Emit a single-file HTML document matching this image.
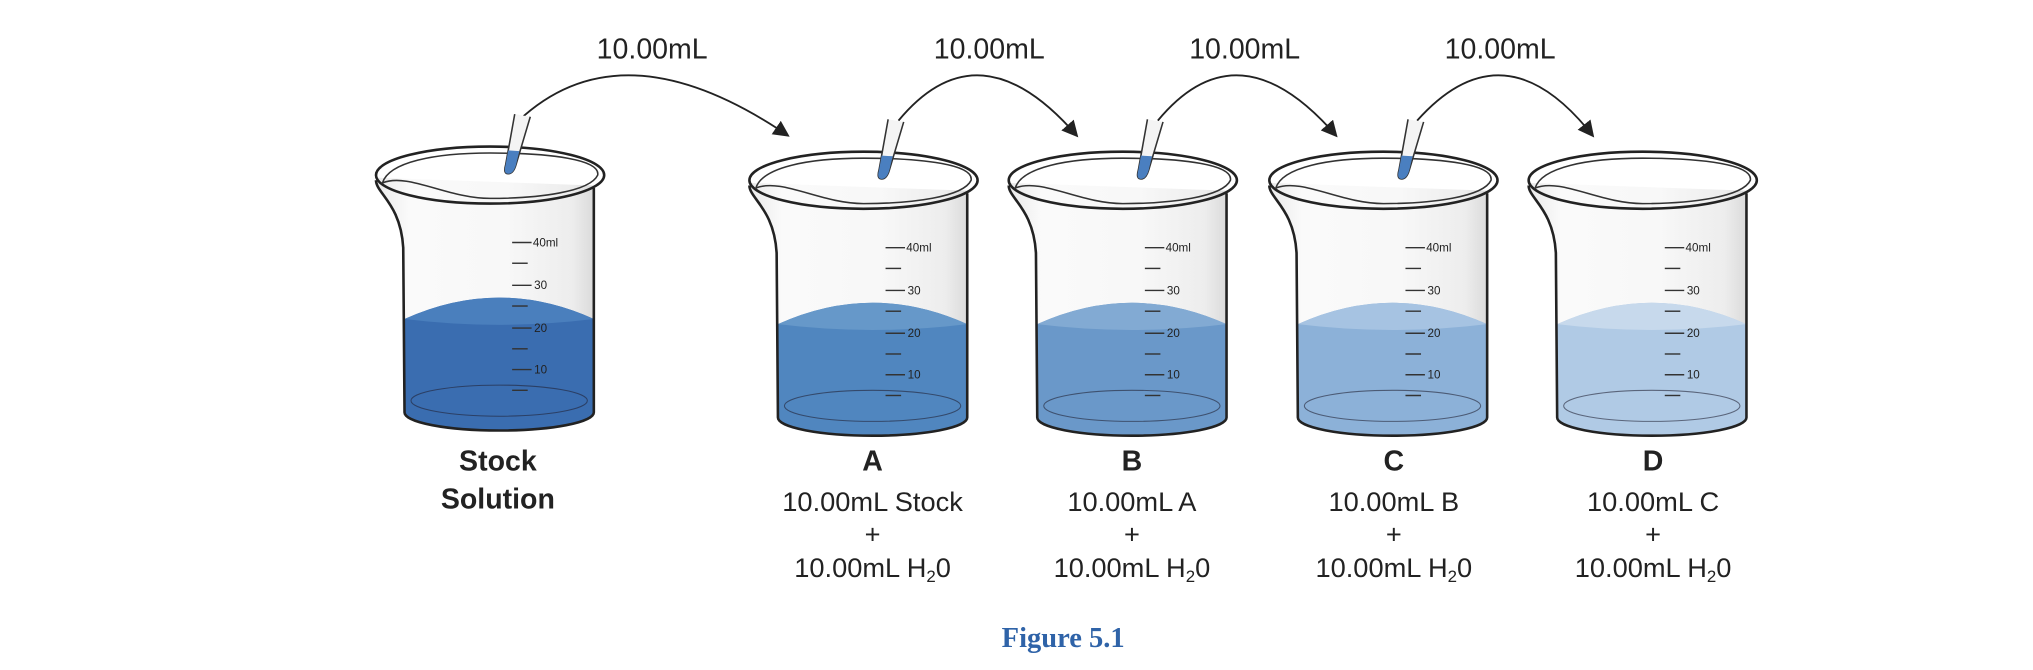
<!DOCTYPE html>
<html><head><meta charset="utf-8"><style>
html,body{margin:0;padding:0;background:#fff}
svg{display:block}
.t{font-family:"Liberation Sans Narrow","Liberation Sans",sans-serif;fill:#222}
</style></head><body>
<svg width="2033" height="670" viewBox="0 0 1568 516.7" xmlns="http://www.w3.org/2000/svg">
<defs>
<linearGradient id="gl" x1="0" x2="1" y1="0" y2="0">
<stop offset="0" stop-color="#d8d8d8"/><stop offset="0.15" stop-color="#f6f6f6"/><stop offset="0.6" stop-color="#f2f2f2"/><stop offset="0.9" stop-color="#dedede"/><stop offset="1" stop-color="#bdbdbd"/>
</linearGradient>
<marker id="ah" viewBox="0 0 10 10" refX="8" refY="5" markerWidth="9" markerHeight="9" orient="auto"><path d="M0,0 L10,5 L0,10 Z" fill="#222"/></marker>
<g id="glass">
<path d="M-95,24 C-95,36 -76,42 -73,75 L-73,205 A73,14 0 0 0 73,205 L73,30 Z" fill="url(#gl)" opacity="0.55"/>
</g>
<g id="out">
<path d="M-95,26 C-95,36 -76,44 -74,78 L-73,205 A73,14 0 0 0 73,205 L73,32" fill="none" stroke="#222" stroke-width="2"/>
<ellipse cx="-7" cy="22" rx="88" ry="22" fill="none" stroke="#222" stroke-width="2"/>
<path d="M-90,28 C-70,20 -40,40 -7,40 C30,40 70,35 76,22 C78,10 40,5 -7,5 C-50,5 -85,12 -90,28 Z" fill="none" stroke="#333" stroke-width="1.2"/>
<ellipse cx="0" cy="196" rx="68" ry="12" fill="none" stroke="#223" stroke-width="0.8" opacity="0.6"/>
<g stroke="#333" stroke-width="1.1">
<line x1="10" x2="25" y1="74" y2="74"/><line x1="10" x2="22" y1="90" y2="90"/><line x1="10" x2="25" y1="107" y2="107"/><line x1="10" x2="22" y1="123" y2="123"/><line x1="10" x2="25" y1="140" y2="140"/><line x1="10" x2="22" y1="156" y2="156"/><line x1="10" x2="25" y1="172" y2="172"/><line x1="10" x2="22" y1="188" y2="188"/>
</g>
<g class="t" font-size="9">
<text x="26" y="77">40ml</text><text x="27" y="110">30</text><text x="27" y="143">20</text><text x="27" y="175">10</text>
</g>
</g>
<g id="pip">
<path d="M12,-25 L5,14 Q3,21 7,21 Q11,21 13,14 L24,-23" fill="#f4f4f4" stroke="#333" stroke-width="1.2"/>
<path d="M7,3 L15.5,3.5 L13,14 Q11,21 7,21 Q3,21 5,14 Z" fill="#4a7fc0"/>
</g>
</defs>

<!-- arcs -->
<g fill="none" stroke="#222" stroke-width="1.4" marker-end="url(#ah)">
<path d="M400,93 Q480,18 607,104"/>
<path d="M693,93 Q755,18 830,104"/>
<path d="M893,93 Q955,18 1030,104"/>
<path d="M1093,93 Q1160,18 1228,104"/>
</g>
<g class="t" font-size="22" text-anchor="middle">
<text x="503" y="45">10.00mL</text>
<text x="763" y="45">10.00mL</text>
<text x="960" y="45">10.00mL</text>
<text x="1157" y="45">10.00mL</text>
</g>

<!-- beakers -->
<g transform="translate(385,113)">
<use href="#glass"/>
<path d="M-73,133 L-73,205 A73,14 0 0 0 73,205 L73,133 Q0,100 -73,133 Z" fill="#3a6db0"/>
<path d="M-73,133 Q0,100 73,133 Q0,142 -73,133 Z" fill="#4a7fbd"/>
<use href="#out"/><use href="#pip"/>
</g>
<g transform="translate(673,117)">
<use href="#glass"/>
<path d="M-73,133 L-73,205 A73,14 0 0 0 73,205 L73,133 Q0,100 -73,133 Z" fill="#5086bf"/>
<path d="M-73,133 Q0,100 73,133 Q0,142 -73,133 Z" fill="#6698c9"/>
<use href="#out"/><use href="#pip"/>
</g>
<g transform="translate(873,117)">
<use href="#glass"/>
<path d="M-73,133 L-73,205 A73,14 0 0 0 73,205 L73,133 Q0,100 -73,133 Z" fill="#6a98c9"/>
<path d="M-73,133 Q0,100 73,133 Q0,142 -73,133 Z" fill="#82aad3"/>
<use href="#out"/><use href="#pip"/>
</g>
<g transform="translate(1074,117)">
<use href="#glass"/>
<path d="M-73,133 L-73,205 A73,14 0 0 0 73,205 L73,133 Q0,100 -73,133 Z" fill="#8cb1d8"/>
<path d="M-73,133 Q0,100 73,133 Q0,142 -73,133 Z" fill="#a6c3e2"/>
<use href="#out"/><use href="#pip"/>
</g>
<g transform="translate(1274,117)">
<use href="#glass"/>
<path d="M-73,133 L-73,205 A73,14 0 0 0 73,205 L73,133 Q0,100 -73,133 Z" fill="#b0cae5"/>
<path d="M-73,133 Q0,100 73,133 Q0,142 -73,133 Z" fill="#c7d9ec"/>
<use href="#out"/>
</g>

<!-- labels -->
<g class="t" text-anchor="middle" font-size="22" font-weight="bold">
<text x="384" y="363">Stock</text><text x="384" y="392">Solution</text>
<text x="673" y="363">A</text><text x="873" y="363">B</text><text x="1075" y="363">C</text><text x="1275" y="363">D</text>
</g>
<g class="t" text-anchor="middle" font-size="21">
<text x="673" y="394">10.00mL Stock</text><text x="673" y="419">+</text><text x="673" y="445">10.00mL H<tspan font-size="13" dy="4">2</tspan><tspan dy="-4">0</tspan></text>
<text x="873" y="394">10.00mL A</text><text x="873" y="419">+</text><text x="873" y="445">10.00mL H<tspan font-size="13" dy="4">2</tspan><tspan dy="-4">0</tspan></text>
<text x="1075" y="394">10.00mL B</text><text x="1075" y="419">+</text><text x="1075" y="445">10.00mL H<tspan font-size="13" dy="4">2</tspan><tspan dy="-4">0</tspan></text>
<text x="1275" y="394">10.00mL C</text><text x="1275" y="419">+</text><text x="1275" y="445">10.00mL H<tspan font-size="13" dy="4">2</tspan><tspan dy="-4">0</tspan></text>
</g>
<text x="820" y="499" text-anchor="middle" font-family="'Liberation Serif',serif" font-weight="bold" font-size="22" fill="#2f63a8">Figure 5.1</text>
</svg>
</body></html>
